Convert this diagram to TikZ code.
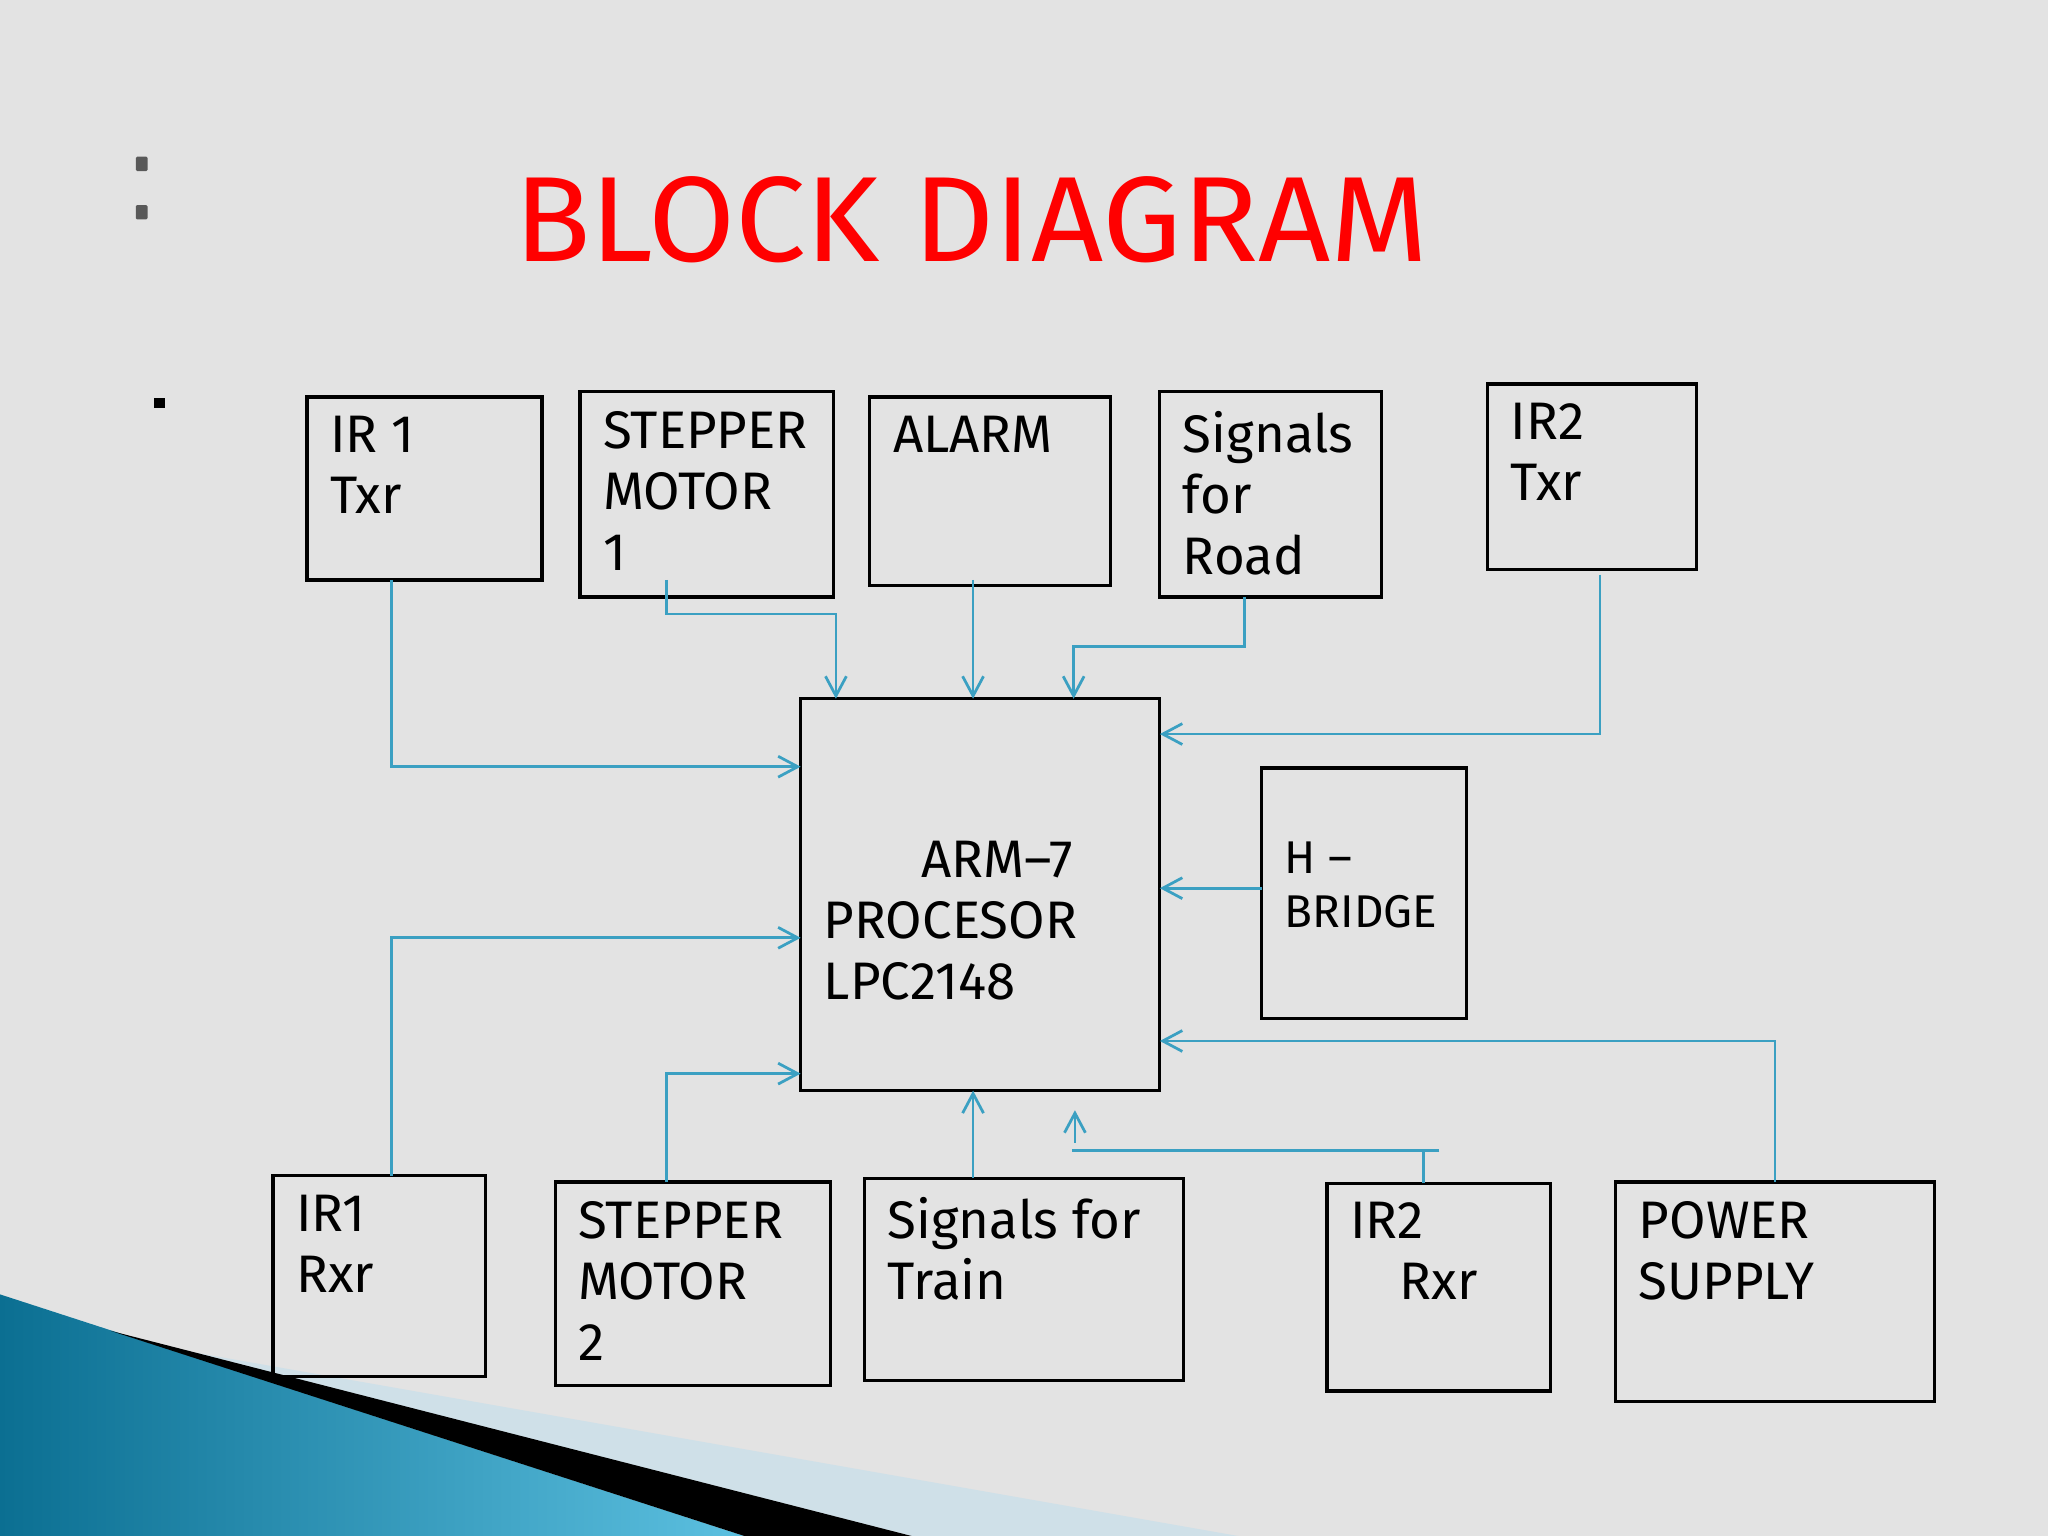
\documentclass[tikz,border=0pt]{standalone}
\usepackage{fontspec}
\usetikzlibrary{arrows.meta}
\newfontfamily\blockfont{Fira Sans}
\newfontfamily\headfont[FakeStretch=1.04]{Fira Sans}
\definecolor{wirecol}{HTML}{3BA0C2}
\definecolor{slidebg}{HTML}{E3E3E3}
\definecolor{swdark}{HTML}{0B6F92}
\definecolor{swlight}{HTML}{5CC0E0}
\definecolor{swpale}{HTML}{CFE0E8}
\definecolor{headred}{HTML}{FF0000}
\begin{document}
\begin{tikzpicture}[x=0.1mm,y=-0.1mm,
	blk/.style={draw=black,line width=0.7pt,inner sep=0pt,outer sep=0pt},
	lbl/.style={anchor=north west,inner sep=0pt,align=left,xshift=1.7mm,yshift=-1.4mm,
		font=\blockfont\fontsize{11.5}{13.3}\selectfont},
	wire/.style={draw=wirecol,line width=0.6pt,-{Straight Barb[length=1.5mm,width=1.6mm]}},
	tap/.style={draw=wirecol,line width=0.6pt}]
	\useasboundingbox (0,0) rectangle (1568,1176);
	\fill[slidebg] (0,0) rectangle (1568,1176);
	% corner swoosh
	\shade[left color=swdark, right color=swlight] (0,991) -- (570,1176) -- (0,1176) -- cycle;
	\fill[swpale] (146,1035) -- (948,1176) -- (698,1176) -- cycle;
	\fill[black] (85,1019) -- (698,1176) -- (570,1176) -- cycle;
	% bullets
	\fill[black!65, rounded corners=0.1mm] (104,120) rectangle (113,131);
	\fill[black!65, rounded corners=0.1mm] (104,157) rectangle (113,168);
	\fill[black] (118,305) rectangle (126,312);
	\node[anchor=base west, inner sep=0pt, text=headred, font=\headfont\fontsize{26.4}{30}\selectfont] (title) at (393,200) {BLOCK DIAGRAM};
	% top row
	\node[blk, minimum width=18mm, minimum height=14mm, label={[lbl]north west:IR 1\\Txr}] (irtx) at (325,374) {};
	\node[blk, minimum width=19.4mm, minimum height=15.7mm, label={[lbl]north west:STEPPER\\MOTOR\\1}] (stepa) at (541,378.5) {};
	\node[blk, minimum width=18.4mm, minimum height=14.4mm, label={[lbl]north west:ALARM}] (alarm) at (758,376) {};
	\node[blk, minimum width=17mm, minimum height=15.7mm, label={[lbl]north west:Signals\\for\\Road}] (road) at (973,378.5) {};
	\node[blk, minimum width=16mm, minimum height=14.2mm, label={[lbl]north west:IR2\\Txr}] (irtxb) at (1219,365) {};
	% middle
	\node[blk, minimum width=27.5mm, minimum height=30mm, label={[lbl, yshift=-9.4mm]north west:\hspace*{7.5mm}ARM–7\\PROCESOR\\LPC2148}] (arm) at (750.5,685) {};
	\node[blk, minimum width=15.7mm, minimum height=19.2mm, label={[lbl, yshift=-4.2mm, font=\blockfont\fontsize{10}{11.7}\selectfont]north west:H –\\BRIDGE}] (hb) at (1044.5,684) {};
	% bottom row
	\node[blk, minimum width=16.3mm, minimum height=15.4mm, label={[lbl]north west:IR1\\Rxr}] (irrx) at (290.5,977) {};
	\node[blk, minimum width=21.1mm, minimum height=15.6mm, label={[lbl]north west:STEPPER\\MOTOR\\2}] (stepb) at (530.5,983) {};
	\node[blk, minimum width=24.4mm, minimum height=15.5mm, label={[lbl]north west:Signals for\\Train}] (train) at (784,979.5) {};
	\node[blk, minimum width=17.1mm, minimum height=15.9mm, label={[lbl]north west:IR2\\\hspace*{3.8mm}Rxr}] (irrxb) at (1101.5,985.5) {};
	\node[blk, minimum width=24.4mm, minimum height=16.8mm, label={[lbl]north west:POWER\\SUPPLY}] (ps) at (1359,989) {};
	% connections
	\draw[wire] ([xshift=-2.5mm]irtx.south) |- (arm.west |- 0,587);
	\draw[wire] ([xshift=-3.1mm,yshift=1.3mm]stepa.south) -- ++(0,26) -| ([xshift=-11.05mm]arm.north);
	\draw[wire] ([xshift=-1.3mm,yshift=0.4mm]alarm.south) -- ([xshift=-1.3mm]alarm.south |- arm.north);
	\draw[wire] ([xshift=-2mm]road.south) -- ++(0,38) -| ([xshift=7.15mm]arm.north);
	\draw[wire] ([xshift=0.6mm,yshift=-0.4mm]irtxb.south) |- (arm.east |- 0,562);
	\draw[wire] ([yshift=0.4mm]hb.west) -- ([yshift=0.4mm]hb.west -| arm.east);
	\draw[wire] ([xshift=0.95mm]irrx.north) |- (arm.west |- 0,718);
	\draw[wire] ([xshift=-2.05mm]stepb.north) |- (arm.west |- 0,822);
	\draw[wire] ([xshift=-3.9mm]train.north) -- ([xshift=-3.9mm]train.north |- arm.south);
	\draw[tap] ([xshift=-1.15mm]irrxb.north) -- ++(0,-25) coordinate (rxj);
	\draw[tap] ([xshift=1.2mm]rxj) -- (rxj -| 821,0);
	\draw[wire] ([yshift=0.6mm]rxj -| 823,0) -- ([yshift=-1.5mm]arm.south -| 823,0);
	\draw[wire] (ps.north) |- (arm.east |- 0,797);
\end{tikzpicture}
\end{document}
